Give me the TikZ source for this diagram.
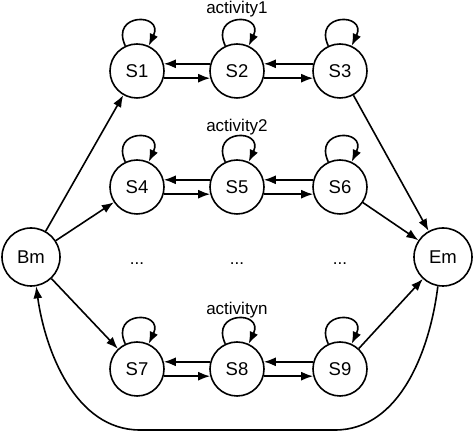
\documentclass[tikz,border=0pt]{standalone}
\usepackage{fontspec}
\setmainfont{Liberation Sans}
\usetikzlibrary{arrows.meta}

\begin{document}
\begin{tikzpicture}[x=1pt, y=1pt, line width=1.6pt,
    every node/.style={font=\fontsize{17}{20}\selectfont}, % Set global font size
    state/.style={circle, draw, minimum size=54pt, inner sep=0pt, font=\fontsize{18.5}{22}\selectfont},
    endstate/.style={state, minimum size=58pt},
    arr/.style={-{Latex[length=12pt,width=9pt]}},
    selfloop/.style={arr, loop, out=115, in=65, min distance=0pt, looseness=4}]

    \useasboundingbox (0,0) rectangle (474,433);

    % --- States ---
    % Begin and end states
    \node[endstate] (Bm) at (31,176) {Bm};
    \node[endstate] (Em) at (443,176) {Em};

    % activity1
    \node[state] (S1) at (137,362) {S1};
    \node[state] (S2) at (237,362) {S2};
    \node[state] (S3) at (340,362) {S3};

    % activity2
    \node[state] (S4) at (137,246) {S4};
    \node[state] (S5) at (237,246) {S5};
    \node[state] (S6) at (340,246) {S6};

    % activityn
    \node[state] (S7) at (137,64) {S7};
    \node[state] (S8) at (237,64) {S8};
    \node[state] (S9) at (340,64) {S9};

    % --- Labels ---
    \node[anchor=base] (L1) at (237,419) {activity1};
    \node[anchor=base] (L2) at (237,301) {activity2};
    \node[anchor=base] (Ln) at (237,118) {activityn};

    % Dots between the activities
    \node[anchor=base] (D1) at (137,168) {...};
    \node[anchor=base] (D2) at (237,168) {...};
    \node[anchor=base] (D3) at (340,168) {...};

    % --- Transitions ---
    % Self loops
    \foreach \s in {S1,S2,S3,S4,S5,S6,S7,S8,S9}
        \draw (\s) edge[selfloop] (\s);

    % Back and forth inside each activity
    \foreach \a/\b in {S1/S2,S2/S3,S4/S5,S5/S6,S7/S8,S8/S9} {
        \draw[arr] (\b.165) -- (\a.15);
        \draw[arr] (\a.-15) -- (\b.-165);
    }

    % Entering and leaving the activities
    \foreach \s in {S1,S4,S7}
        \draw[arr] (Bm) -- (\s);
    \foreach \s in {S3,S6,S9}
        \draw[arr] (\s) -- (Em);

    % Return from the end state to the begin state (flat along the bottom)
    \draw[arr] (Em.-100) .. controls (430,83) and (400,3) .. (335,3)
        -- (140,3) .. controls (75,3) and (45,83) .. (Bm.-80);

\end{tikzpicture}
\end{document}
